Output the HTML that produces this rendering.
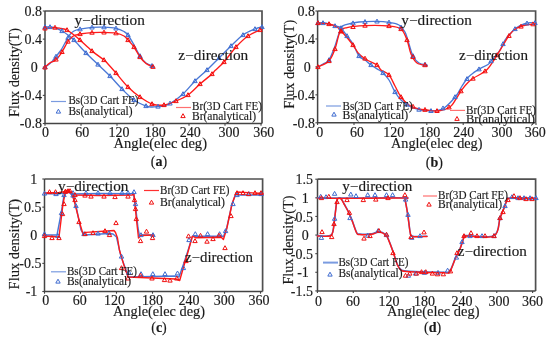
<!DOCTYPE html>
<html><head><meta charset="utf-8"><style>
html,body{margin:0;padding:0;background:#fff;}
svg{display:block;}
text{font-family:"Liberation Serif",serif;fill:#1a1a1a;stroke:#1a1a1a;stroke-width:0.15px;}
svg{will-change:transform;}
</style></head><body>
<svg width="550" height="340" viewBox="0 0 550 340">
<rect width="550" height="340" fill="#fff"/>
<path d="M45,11 H262 V123.5" fill="none" stroke="#505050" stroke-width="1.7"/>
<path d="M45,11 V123.5 H262" fill="none" stroke="#444" stroke-width="1.5"/>
<line x1="45.00" y1="123.5" x2="45.00" y2="125.7" stroke="#444" stroke-width="1.1"/>
<line x1="81.00" y1="123.5" x2="81.00" y2="125.7" stroke="#444" stroke-width="1.1"/>
<line x1="117.00" y1="123.5" x2="117.00" y2="125.7" stroke="#444" stroke-width="1.1"/>
<line x1="153.00" y1="123.5" x2="153.00" y2="125.7" stroke="#444" stroke-width="1.1"/>
<line x1="189.00" y1="123.5" x2="189.00" y2="125.7" stroke="#444" stroke-width="1.1"/>
<line x1="225.00" y1="123.5" x2="225.00" y2="125.7" stroke="#444" stroke-width="1.1"/>
<line x1="261.00" y1="123.5" x2="261.00" y2="125.7" stroke="#444" stroke-width="1.1"/>
<line x1="42.8" y1="11.00" x2="45" y2="11.00" stroke="#444" stroke-width="1.1"/>
<line x1="42.8" y1="39.12" x2="45" y2="39.12" stroke="#444" stroke-width="1.1"/>
<line x1="42.8" y1="67.25" x2="45" y2="67.25" stroke="#444" stroke-width="1.1"/>
<line x1="42.8" y1="95.38" x2="45" y2="95.38" stroke="#444" stroke-width="1.1"/>
<line x1="42.8" y1="123.50" x2="45" y2="123.50" stroke="#444" stroke-width="1.1"/>
<text x="42" y="15.9" font-size="14" text-anchor="end" font-weight="normal">0.8</text>
<text x="42" y="44.02" font-size="14" text-anchor="end" font-weight="normal">0.4</text>
<text x="37.8" y="72.15" font-size="14" text-anchor="end" font-weight="normal">0</text>
<text x="42" y="100.28" font-size="14" text-anchor="end" font-weight="normal">-0.4</text>
<text x="42" y="128.4" font-size="14" text-anchor="end" font-weight="normal">-0.8</text>
<text x="45.6" y="137" font-size="14" text-anchor="middle" font-weight="normal">0</text>
<text x="82.3" y="137" font-size="14" text-anchor="middle" font-weight="normal">60</text>
<text x="119" y="137" font-size="14" text-anchor="middle" font-weight="normal">120</text>
<text x="155.3" y="137" font-size="14" text-anchor="middle" font-weight="normal">180</text>
<text x="190.3" y="137" font-size="14" text-anchor="middle" font-weight="normal">240</text>
<text x="229" y="137" font-size="14" text-anchor="middle" font-weight="normal">300</text>
<text x="263.8" y="137" font-size="14" text-anchor="middle" font-weight="normal">360</text>
<path d="M45.00,27.00 C46.00,27.00 49.17,26.83 51.00,27.00 C52.83,27.17 54.17,27.33 56.00,28.00 C57.83,28.67 60.00,29.83 62.00,31.00 C64.00,32.17 66.00,33.50 68.00,35.00 C70.00,36.50 71.00,37.00 74.00,40.00 C77.00,43.00 82.00,48.92 86.00,53.00 C90.00,57.08 94.00,60.67 98.00,64.50 C102.00,68.33 106.00,71.92 110.00,76.00 C114.00,80.08 118.00,85.00 122.00,89.00 C126.00,93.00 130.00,97.17 134.00,100.00 C138.00,102.83 143.00,104.83 146.00,106.00 C149.00,107.17 149.83,106.93 152.00,107.00 C154.17,107.07 157.00,106.57 159.00,106.40 C161.00,106.23 162.00,106.57 164.00,106.00 C166.00,105.43 167.83,105.00 171.00,103.00 C174.17,101.00 179.00,97.67 183.00,94.00 C187.00,90.33 191.00,85.00 195.00,81.00 C199.00,77.00 203.00,73.83 207.00,70.00 C211.00,66.17 215.00,62.00 219.00,58.00 C223.00,54.00 227.00,49.83 231.00,46.00 C235.00,42.17 239.00,37.83 243.00,35.00 C247.00,32.17 251.83,30.33 255.00,29.00 C258.17,27.67 260.83,27.33 262.00,27.00" fill="none" stroke="#4a78d6" stroke-width="1.35" stroke-linejoin="round" stroke-linecap="round"/>
<path d="M45.00,67.00 C45.83,66.42 48.60,64.70 50.00,63.50 C51.40,62.30 52.20,61.22 53.40,59.80 C54.60,58.38 55.77,56.88 57.20,55.00 C58.63,53.12 60.43,51.00 62.00,48.50 C63.57,46.00 65.27,42.33 66.60,40.00 C67.93,37.67 68.77,36.00 70.00,34.50 C71.23,33.00 72.33,31.88 74.00,31.00 C75.67,30.12 77.00,29.80 80.00,29.20 C83.00,28.60 88.00,27.73 92.00,27.40 C96.00,27.07 100.00,27.03 104.00,27.20 C108.00,27.37 112.67,27.68 116.00,28.40 C119.33,29.12 122.00,30.40 124.00,31.50 C126.00,32.60 126.33,32.75 128.00,35.00 C129.67,37.25 132.00,41.50 134.00,45.00 C136.00,48.50 138.00,53.00 140.00,56.00 C142.00,59.00 143.75,61.25 146.00,63.00 C148.25,64.75 152.25,65.92 153.50,66.50" fill="none" stroke="#4a78d6" stroke-width="1.35" stroke-linejoin="round" stroke-linecap="round"/>
<path d="M45.00,28.40 C46.67,28.27 52.33,27.58 55.00,27.60 C57.67,27.62 59.00,28.10 61.00,28.50 C63.00,28.90 64.83,28.92 67.00,30.00 C69.17,31.08 71.83,33.33 74.00,35.00 C76.17,36.67 77.00,37.33 80.00,40.00 C83.00,42.67 88.00,47.67 92.00,51.00 C96.00,54.33 101.33,57.83 104.00,60.00 C106.67,62.17 106.00,61.83 108.00,64.00 C110.00,66.17 112.67,69.17 116.00,73.00 C119.33,76.83 124.00,83.00 128.00,87.00 C132.00,91.00 136.00,94.17 140.00,97.00 C144.00,99.83 148.00,102.67 152.00,104.00 C156.00,105.33 160.00,105.50 164.00,105.00 C168.00,104.50 172.00,102.67 176.00,101.00 C180.00,99.33 184.00,97.83 188.00,95.00 C192.00,92.17 196.00,87.50 200.00,84.00 C204.00,80.50 209.50,76.25 212.00,74.00 C214.50,71.75 213.00,72.50 215.00,70.50 C217.00,68.50 220.50,65.92 224.00,62.00 C227.50,58.08 232.00,51.33 236.00,47.00 C240.00,42.67 244.00,38.83 248.00,36.00 C252.00,33.17 257.67,31.10 260.00,30.00 C262.33,28.90 261.67,29.50 262.00,29.40" fill="none" stroke="#ff1a1a" stroke-width="1.35" stroke-linejoin="round" stroke-linecap="round"/>
<path d="M45.00,67.40 C45.78,66.67 47.98,64.18 49.70,63.00 C51.42,61.82 53.42,61.85 55.30,60.30 C57.18,58.75 58.95,56.75 61.00,53.70 C63.05,50.65 65.77,44.78 67.60,42.00 C69.43,39.22 70.60,38.17 72.00,37.00 C73.40,35.83 74.67,35.50 76.00,35.00 C77.33,34.50 77.33,34.40 80.00,34.00 C82.67,33.60 88.00,32.87 92.00,32.60 C96.00,32.33 100.00,32.30 104.00,32.40 C108.00,32.50 112.67,32.60 116.00,33.20 C119.33,33.80 122.00,34.87 124.00,36.00 C126.00,37.13 126.33,38.17 128.00,40.00 C129.67,41.83 132.00,44.17 134.00,47.00 C136.00,49.83 138.00,54.25 140.00,57.00 C142.00,59.75 143.75,61.83 146.00,63.50 C148.25,65.17 152.25,66.42 153.50,67.00" fill="none" stroke="#ff1a1a" stroke-width="1.35" stroke-linejoin="round" stroke-linecap="round"/>
<path d="M45.00,24.70 L47.20,28.60 L42.80,28.60 Z" fill="none" stroke="#3f6cd0" stroke-width="1.0" stroke-linejoin="miter"/>
<path d="M50.00,24.70 L52.20,28.60 L47.80,28.60 Z" fill="none" stroke="#3f6cd0" stroke-width="1.0" stroke-linejoin="miter"/>
<path d="M62.00,28.70 L64.20,32.60 L59.80,32.60 Z" fill="none" stroke="#3f6cd0" stroke-width="1.0" stroke-linejoin="miter"/>
<path d="M74.00,37.70 L76.20,41.60 L71.80,41.60 Z" fill="none" stroke="#3f6cd0" stroke-width="1.0" stroke-linejoin="miter"/>
<path d="M86.00,50.70 L88.20,54.60 L83.80,54.60 Z" fill="none" stroke="#3f6cd0" stroke-width="1.0" stroke-linejoin="miter"/>
<path d="M98.00,62.20 L100.20,66.10 L95.80,66.10 Z" fill="none" stroke="#3f6cd0" stroke-width="1.0" stroke-linejoin="miter"/>
<path d="M110.00,73.70 L112.20,77.60 L107.80,77.60 Z" fill="none" stroke="#3f6cd0" stroke-width="1.0" stroke-linejoin="miter"/>
<path d="M122.00,86.70 L124.20,90.60 L119.80,90.60 Z" fill="none" stroke="#3f6cd0" stroke-width="1.0" stroke-linejoin="miter"/>
<path d="M134.00,97.70 L136.20,101.60 L131.80,101.60 Z" fill="none" stroke="#3f6cd0" stroke-width="1.0" stroke-linejoin="miter"/>
<path d="M146.00,103.70 L148.20,107.60 L143.80,107.60 Z" fill="none" stroke="#3f6cd0" stroke-width="1.0" stroke-linejoin="miter"/>
<path d="M158.00,104.19 L160.20,108.09 L155.80,108.09 Z" fill="none" stroke="#3f6cd0" stroke-width="1.0" stroke-linejoin="miter"/>
<path d="M170.00,101.13 L172.20,105.03 L167.80,105.03 Z" fill="none" stroke="#3f6cd0" stroke-width="1.0" stroke-linejoin="miter"/>
<path d="M183.00,91.70 L185.20,95.60 L180.80,95.60 Z" fill="none" stroke="#3f6cd0" stroke-width="1.0" stroke-linejoin="miter"/>
<path d="M195.00,78.70 L197.20,82.60 L192.80,82.60 Z" fill="none" stroke="#3f6cd0" stroke-width="1.0" stroke-linejoin="miter"/>
<path d="M207.00,67.70 L209.20,71.60 L204.80,71.60 Z" fill="none" stroke="#3f6cd0" stroke-width="1.0" stroke-linejoin="miter"/>
<path d="M219.00,55.70 L221.20,59.60 L216.80,59.60 Z" fill="none" stroke="#3f6cd0" stroke-width="1.0" stroke-linejoin="miter"/>
<path d="M231.00,43.70 L233.20,47.60 L228.80,47.60 Z" fill="none" stroke="#3f6cd0" stroke-width="1.0" stroke-linejoin="miter"/>
<path d="M243.00,32.70 L245.20,36.60 L240.80,36.60 Z" fill="none" stroke="#3f6cd0" stroke-width="1.0" stroke-linejoin="miter"/>
<path d="M255.00,26.70 L257.20,30.60 L252.80,30.60 Z" fill="none" stroke="#3f6cd0" stroke-width="1.0" stroke-linejoin="miter"/>
<path d="M262.00,24.70 L264.20,28.60 L259.80,28.60 Z" fill="none" stroke="#3f6cd0" stroke-width="1.0" stroke-linejoin="miter"/>
<path d="M45.00,64.70 L47.20,68.60 L42.80,68.60 Z" fill="none" stroke="#3f6cd0" stroke-width="1.0" stroke-linejoin="miter"/>
<path d="M56.00,54.22 L58.20,58.12 L53.80,58.12 Z" fill="none" stroke="#3f6cd0" stroke-width="1.0" stroke-linejoin="miter"/>
<path d="M68.00,35.44 L70.20,39.34 L65.80,39.34 Z" fill="none" stroke="#3f6cd0" stroke-width="1.0" stroke-linejoin="miter"/>
<path d="M80.00,26.90 L82.20,30.80 L77.80,30.80 Z" fill="none" stroke="#3f6cd0" stroke-width="1.0" stroke-linejoin="miter"/>
<path d="M92.00,25.10 L94.20,29.00 L89.80,29.00 Z" fill="none" stroke="#3f6cd0" stroke-width="1.0" stroke-linejoin="miter"/>
<path d="M104.00,24.90 L106.20,28.80 L101.80,28.80 Z" fill="none" stroke="#3f6cd0" stroke-width="1.0" stroke-linejoin="miter"/>
<path d="M116.00,26.10 L118.20,30.00 L113.80,30.00 Z" fill="none" stroke="#3f6cd0" stroke-width="1.0" stroke-linejoin="miter"/>
<path d="M128.00,32.70 L130.20,36.60 L125.80,36.60 Z" fill="none" stroke="#3f6cd0" stroke-width="1.0" stroke-linejoin="miter"/>
<path d="M140.00,53.70 L142.20,57.60 L137.80,57.60 Z" fill="none" stroke="#3f6cd0" stroke-width="1.0" stroke-linejoin="miter"/>
<path d="M152.00,63.50 L154.20,67.40 L149.80,67.40 Z" fill="none" stroke="#3f6cd0" stroke-width="1.0" stroke-linejoin="miter"/>
<path d="M45.00,26.10 L47.20,30.00 L42.80,30.00 Z" fill="none" stroke="#f01010" stroke-width="1.0" stroke-linejoin="miter"/>
<path d="M55.00,25.30 L57.20,29.20 L52.80,29.20 Z" fill="none" stroke="#f01010" stroke-width="1.0" stroke-linejoin="miter"/>
<path d="M67.00,27.70 L69.20,31.60 L64.80,31.60 Z" fill="none" stroke="#f01010" stroke-width="1.0" stroke-linejoin="miter"/>
<path d="M80.00,37.70 L82.20,41.60 L77.80,41.60 Z" fill="none" stroke="#f01010" stroke-width="1.0" stroke-linejoin="miter"/>
<path d="M92.00,48.70 L94.20,52.60 L89.80,52.60 Z" fill="none" stroke="#f01010" stroke-width="1.0" stroke-linejoin="miter"/>
<path d="M104.00,57.70 L106.20,61.60 L101.80,61.60 Z" fill="none" stroke="#f01010" stroke-width="1.0" stroke-linejoin="miter"/>
<path d="M116.00,70.70 L118.20,74.60 L113.80,74.60 Z" fill="none" stroke="#f01010" stroke-width="1.0" stroke-linejoin="miter"/>
<path d="M128.00,84.70 L130.20,88.60 L125.80,88.60 Z" fill="none" stroke="#f01010" stroke-width="1.0" stroke-linejoin="miter"/>
<path d="M140.00,94.70 L142.20,98.60 L137.80,98.60 Z" fill="none" stroke="#f01010" stroke-width="1.0" stroke-linejoin="miter"/>
<path d="M152.00,101.70 L154.20,105.60 L149.80,105.60 Z" fill="none" stroke="#f01010" stroke-width="1.0" stroke-linejoin="miter"/>
<path d="M164.00,102.70 L166.20,106.60 L161.80,106.60 Z" fill="none" stroke="#f01010" stroke-width="1.0" stroke-linejoin="miter"/>
<path d="M176.00,98.70 L178.20,102.60 L173.80,102.60 Z" fill="none" stroke="#f01010" stroke-width="1.0" stroke-linejoin="miter"/>
<path d="M188.00,92.70 L190.20,96.60 L185.80,96.60 Z" fill="none" stroke="#f01010" stroke-width="1.0" stroke-linejoin="miter"/>
<path d="M200.00,81.70 L202.20,85.60 L197.80,85.60 Z" fill="none" stroke="#f01010" stroke-width="1.0" stroke-linejoin="miter"/>
<path d="M212.00,71.70 L214.20,75.60 L209.80,75.60 Z" fill="none" stroke="#f01010" stroke-width="1.0" stroke-linejoin="miter"/>
<path d="M224.00,59.70 L226.20,63.60 L221.80,63.60 Z" fill="none" stroke="#f01010" stroke-width="1.0" stroke-linejoin="miter"/>
<path d="M236.00,44.70 L238.20,48.60 L233.80,48.60 Z" fill="none" stroke="#f01010" stroke-width="1.0" stroke-linejoin="miter"/>
<path d="M248.00,33.70 L250.20,37.60 L245.80,37.60 Z" fill="none" stroke="#f01010" stroke-width="1.0" stroke-linejoin="miter"/>
<path d="M260.00,27.70 L262.20,31.60 L257.80,31.60 Z" fill="none" stroke="#f01010" stroke-width="1.0" stroke-linejoin="miter"/>
<path d="M45.00,65.10 L47.20,69.00 L42.80,69.00 Z" fill="none" stroke="#f01010" stroke-width="1.0" stroke-linejoin="miter"/>
<path d="M56.00,57.19 L58.20,61.09 L53.80,61.09 Z" fill="none" stroke="#f01010" stroke-width="1.0" stroke-linejoin="miter"/>
<path d="M62.00,49.63 L64.20,53.53 L59.80,53.53 Z" fill="none" stroke="#f01010" stroke-width="1.0" stroke-linejoin="miter"/>
<path d="M68.00,39.25 L70.20,43.15 L65.80,43.15 Z" fill="none" stroke="#f01010" stroke-width="1.0" stroke-linejoin="miter"/>
<path d="M80.00,31.70 L82.20,35.60 L77.80,35.60 Z" fill="none" stroke="#f01010" stroke-width="1.0" stroke-linejoin="miter"/>
<path d="M92.00,30.30 L94.20,34.20 L89.80,34.20 Z" fill="none" stroke="#f01010" stroke-width="1.0" stroke-linejoin="miter"/>
<path d="M104.00,30.10 L106.20,34.00 L101.80,34.00 Z" fill="none" stroke="#f01010" stroke-width="1.0" stroke-linejoin="miter"/>
<path d="M116.00,30.90 L118.20,34.80 L113.80,34.80 Z" fill="none" stroke="#f01010" stroke-width="1.0" stroke-linejoin="miter"/>
<path d="M128.00,37.70 L130.20,41.60 L125.80,41.60 Z" fill="none" stroke="#f01010" stroke-width="1.0" stroke-linejoin="miter"/>
<path d="M134.00,44.70 L136.20,48.60 L131.80,48.60 Z" fill="none" stroke="#f01010" stroke-width="1.0" stroke-linejoin="miter"/>
<path d="M140.00,54.70 L142.20,58.60 L137.80,58.60 Z" fill="none" stroke="#f01010" stroke-width="1.0" stroke-linejoin="miter"/>
<path d="M153.00,64.47 L155.20,68.37 L150.80,68.37 Z" fill="none" stroke="#f01010" stroke-width="1.0" stroke-linejoin="miter"/>
<line x1="51" y1="101.5" x2="66" y2="101.5" stroke="#7a9be0" stroke-width="1.2"/>
<text x="68.5" y="104.2" font-size="12.8" text-anchor="start" font-weight="normal" textLength="70" lengthAdjust="spacingAndGlyphs">Bs(3D Cart FE)</text>
<path d="M58.40,109.20 L60.60,113.10 L56.20,113.10 Z" fill="none" stroke="#3f6cd0" stroke-width="1.0" stroke-linejoin="miter"/>
<text x="68.5" y="114.8" font-size="12.8" text-anchor="start" font-weight="normal" textLength="64" lengthAdjust="spacingAndGlyphs">Bs(analytical)</text>
<line x1="176" y1="107.5" x2="191" y2="107.5" stroke="#ff7070" stroke-width="1.2"/>
<text x="192" y="110.3" font-size="12.8" text-anchor="start" font-weight="normal" textLength="70" lengthAdjust="spacingAndGlyphs">Br(3D Cart FE)</text>
<path d="M183.00,113.70 L185.20,117.60 L180.80,117.60 Z" fill="none" stroke="#f01010" stroke-width="1.0" stroke-linejoin="miter"/>
<text x="192" y="119.6" font-size="12.8" text-anchor="start" font-weight="normal" textLength="64" lengthAdjust="spacingAndGlyphs">Br(analytical)</text>
<text x="74.4" y="24.5" font-size="14.2" text-anchor="start" font-weight="normal" textLength="70.5" lengthAdjust="spacingAndGlyphs">y&#8722;direction</text>
<text x="178.3" y="59.5" font-size="14.2" text-anchor="start" font-weight="normal" textLength="70" lengthAdjust="spacingAndGlyphs">z&#8722;direction</text>
<text x="113.5" y="147.8" font-size="14.5" text-anchor="start" font-weight="normal" textLength="93.5" lengthAdjust="spacingAndGlyphs">Angle(elec deg)</text>
<text x="0" y="0" font-size="14.5" textLength="89" lengthAdjust="spacingAndGlyphs" transform="translate(19.2,117) rotate(-90)">Flux density(T)</text>
<text x="158.9" y="166.29999999999998" font-size="14" text-anchor="middle">(<tspan font-weight="bold">a</tspan>)</text>
<path d="M317.6,11 H535.6 V122.8" fill="none" stroke="#505050" stroke-width="1.7"/>
<path d="M317.6,11 V122.8 H535.6" fill="none" stroke="#444" stroke-width="1.5"/>
<line x1="317.60" y1="122.8" x2="317.60" y2="125.0" stroke="#444" stroke-width="1.1"/>
<line x1="354.00" y1="122.8" x2="354.00" y2="125.0" stroke="#444" stroke-width="1.1"/>
<line x1="390.40" y1="122.8" x2="390.40" y2="125.0" stroke="#444" stroke-width="1.1"/>
<line x1="426.80" y1="122.8" x2="426.80" y2="125.0" stroke="#444" stroke-width="1.1"/>
<line x1="463.20" y1="122.8" x2="463.20" y2="125.0" stroke="#444" stroke-width="1.1"/>
<line x1="499.60" y1="122.8" x2="499.60" y2="125.0" stroke="#444" stroke-width="1.1"/>
<line x1="536.00" y1="122.8" x2="536.00" y2="125.0" stroke="#444" stroke-width="1.1"/>
<line x1="315.40000000000003" y1="11.00" x2="317.6" y2="11.00" stroke="#444" stroke-width="1.1"/>
<line x1="315.40000000000003" y1="38.95" x2="317.6" y2="38.95" stroke="#444" stroke-width="1.1"/>
<line x1="315.40000000000003" y1="66.90" x2="317.6" y2="66.90" stroke="#444" stroke-width="1.1"/>
<line x1="315.40000000000003" y1="94.85" x2="317.6" y2="94.85" stroke="#444" stroke-width="1.1"/>
<line x1="315.40000000000003" y1="122.80" x2="317.6" y2="122.80" stroke="#444" stroke-width="1.1"/>
<text x="315" y="15.9" font-size="14" text-anchor="end" font-weight="normal">0.8</text>
<text x="315" y="43.85" font-size="14" text-anchor="end" font-weight="normal">0.4</text>
<text x="310.8" y="71.8" font-size="14" text-anchor="end" font-weight="normal">0</text>
<text x="315" y="99.75" font-size="14" text-anchor="end" font-weight="normal">-0.4</text>
<text x="315" y="127.7" font-size="14" text-anchor="end" font-weight="normal">-0.8</text>
<text x="319.8" y="136.5" font-size="14" text-anchor="middle" font-weight="normal">0</text>
<text x="356.9" y="136.5" font-size="14" text-anchor="middle" font-weight="normal">60</text>
<text x="393.7" y="136.5" font-size="14" text-anchor="middle" font-weight="normal">120</text>
<text x="429.7" y="136.5" font-size="14" text-anchor="middle" font-weight="normal">180</text>
<text x="463.7" y="136.5" font-size="14" text-anchor="middle" font-weight="normal">240</text>
<text x="502" y="136.5" font-size="14" text-anchor="middle" font-weight="normal">300</text>
<text x="535.3" y="136.5" font-size="14" text-anchor="middle" font-weight="normal">360</text>
<path d="M318.00,23.00 C319.17,23.00 322.17,22.50 325.00,23.00 C327.83,23.50 332.33,25.17 335.00,26.00 C337.67,26.83 339.00,26.33 341.00,28.00 C343.00,29.67 345.00,33.33 347.00,36.00 C349.00,38.67 351.00,40.67 353.00,44.00 C355.00,47.33 357.00,53.33 359.00,56.00 C361.00,58.67 363.00,58.50 365.00,60.00 C367.00,61.50 368.67,63.33 371.00,65.00 C373.33,66.67 377.00,68.67 379.00,70.00 C381.00,71.33 381.33,71.33 383.00,73.00 C384.67,74.67 387.00,76.83 389.00,80.00 C391.00,83.17 393.00,88.67 395.00,92.00 C397.00,95.33 398.67,97.67 401.00,100.00 C403.33,102.33 406.00,104.40 409.00,106.00 C412.00,107.60 416.00,108.87 419.00,109.60 C422.00,110.33 424.83,110.17 427.00,110.40 C429.17,110.63 429.17,111.40 432.00,111.00 C434.83,110.60 440.00,110.50 444.00,108.00 C448.00,105.50 453.00,99.67 456.00,96.00 C459.00,92.33 460.00,89.08 462.00,86.00 C464.00,82.92 466.00,79.77 468.00,77.50 C470.00,75.23 472.00,73.88 474.00,72.40 C476.00,70.92 477.67,69.92 480.00,68.60 C482.33,67.28 486.00,65.93 488.00,64.50 C490.00,63.07 490.00,62.42 492.00,60.00 C494.00,57.58 497.83,53.33 500.00,50.00 C502.17,46.67 503.33,42.67 505.00,40.00 C506.67,37.33 508.17,36.00 510.00,34.00 C511.83,32.00 513.67,29.67 516.00,28.00 C518.33,26.33 521.67,24.90 524.00,24.00 C526.33,23.10 528.08,22.77 530.00,22.60 C531.92,22.43 534.58,22.93 535.50,23.00" fill="none" stroke="#4a78d6" stroke-width="1.35" stroke-linejoin="round" stroke-linecap="round"/>
<path d="M318.00,67.00 C318.83,66.50 321.17,65.17 323.00,64.00 C324.83,62.83 327.00,63.00 329.00,60.00 C331.00,57.00 333.00,51.33 335.00,46.00 C337.00,40.67 339.00,31.60 341.00,28.00 C343.00,24.40 344.00,25.40 347.00,24.40 C350.00,23.40 354.00,22.50 359.00,22.00 C364.00,21.50 372.00,21.33 377.00,21.40 C382.00,21.47 385.33,21.80 389.00,22.40 C392.67,23.00 396.33,23.40 399.00,25.00 C401.67,26.60 403.33,28.83 405.00,32.00 C406.67,35.17 407.67,40.00 409.00,44.00 C410.33,48.00 411.33,52.83 413.00,56.00 C414.67,59.17 416.67,61.50 419.00,63.00 C421.33,64.50 425.67,64.67 427.00,65.00" fill="none" stroke="#4a78d6" stroke-width="1.35" stroke-linejoin="round" stroke-linecap="round"/>
<path d="M318.00,23.00 C319.83,23.17 325.83,23.33 329.00,24.00 C332.17,24.67 334.67,25.50 337.00,27.00 C339.33,28.50 340.33,30.00 343.00,33.00 C345.67,36.00 350.33,41.50 353.00,45.00 C355.67,48.50 356.67,51.50 359.00,54.00 C361.33,56.50 364.00,58.17 367.00,60.00 C370.00,61.83 374.67,63.33 377.00,65.00 C379.33,66.67 379.00,68.33 381.00,70.00 C383.00,71.67 386.67,72.33 389.00,75.00 C391.33,77.67 393.00,82.33 395.00,86.00 C397.00,89.67 398.67,93.83 401.00,97.00 C403.33,100.17 406.00,103.00 409.00,105.00 C412.00,107.00 416.00,108.17 419.00,109.00 C422.00,109.83 423.83,109.67 427.00,110.00 C430.17,110.33 434.17,111.50 438.00,111.00 C441.83,110.50 447.00,109.00 450.00,107.00 C453.00,105.00 454.00,101.90 456.00,99.00 C458.00,96.10 460.00,92.35 462.00,89.60 C464.00,86.85 466.00,84.47 468.00,82.50 C470.00,80.53 471.00,79.78 474.00,77.80 C477.00,75.82 482.67,73.57 486.00,70.60 C489.33,67.63 491.33,63.93 494.00,60.00 C496.67,56.07 499.67,50.83 502.00,47.00 C504.33,43.17 506.00,39.83 508.00,37.00 C510.00,34.17 511.67,31.83 514.00,30.00 C516.33,28.17 519.33,26.93 522.00,26.00 C524.67,25.07 527.75,24.73 530.00,24.40 C532.25,24.07 534.58,24.07 535.50,24.00" fill="none" stroke="#ff1a1a" stroke-width="1.35" stroke-linejoin="round" stroke-linecap="round"/>
<path d="M318.00,67.00 C319.83,66.00 326.17,64.00 329.00,61.00 C331.83,58.00 333.17,53.83 335.00,49.00 C336.83,44.17 338.00,35.57 340.00,32.00 C342.00,28.43 342.83,28.67 347.00,27.60 C351.17,26.53 358.00,25.87 365.00,25.60 C372.00,25.33 383.00,25.43 389.00,26.00 C395.00,26.57 398.00,26.67 401.00,29.00 C404.00,31.33 405.33,35.83 407.00,40.00 C408.67,44.17 409.33,50.17 411.00,54.00 C412.67,57.83 414.33,61.07 417.00,63.00 C419.67,64.93 425.33,65.17 427.00,65.60" fill="none" stroke="#ff1a1a" stroke-width="1.35" stroke-linejoin="round" stroke-linecap="round"/>
<path d="M318.00,20.70 L320.20,24.60 L315.80,24.60 Z" fill="none" stroke="#3f6cd0" stroke-width="1.0" stroke-linejoin="miter"/>
<path d="M323.00,20.70 L325.20,24.60 L320.80,24.60 Z" fill="none" stroke="#3f6cd0" stroke-width="1.0" stroke-linejoin="miter"/>
<path d="M335.00,23.70 L337.20,27.60 L332.80,27.60 Z" fill="none" stroke="#3f6cd0" stroke-width="1.0" stroke-linejoin="miter"/>
<path d="M347.00,33.70 L349.20,37.60 L344.80,37.60 Z" fill="none" stroke="#3f6cd0" stroke-width="1.0" stroke-linejoin="miter"/>
<path d="M359.00,53.70 L361.20,57.60 L356.80,57.60 Z" fill="none" stroke="#3f6cd0" stroke-width="1.0" stroke-linejoin="miter"/>
<path d="M371.00,62.70 L373.20,66.60 L368.80,66.60 Z" fill="none" stroke="#3f6cd0" stroke-width="1.0" stroke-linejoin="miter"/>
<path d="M383.00,70.70 L385.20,74.60 L380.80,74.60 Z" fill="none" stroke="#3f6cd0" stroke-width="1.0" stroke-linejoin="miter"/>
<path d="M395.00,89.70 L397.20,93.60 L392.80,93.60 Z" fill="none" stroke="#3f6cd0" stroke-width="1.0" stroke-linejoin="miter"/>
<path d="M407.00,102.20 L409.20,106.10 L404.80,106.10 Z" fill="none" stroke="#3f6cd0" stroke-width="1.0" stroke-linejoin="miter"/>
<path d="M419.00,107.30 L421.20,111.20 L416.80,111.20 Z" fill="none" stroke="#3f6cd0" stroke-width="1.0" stroke-linejoin="miter"/>
<path d="M431.00,108.58 L433.20,112.48 L428.80,112.48 Z" fill="none" stroke="#3f6cd0" stroke-width="1.0" stroke-linejoin="miter"/>
<path d="M443.00,105.95 L445.20,109.85 L440.80,109.85 Z" fill="none" stroke="#3f6cd0" stroke-width="1.0" stroke-linejoin="miter"/>
<path d="M455.00,94.70 L457.20,98.60 L452.80,98.60 Z" fill="none" stroke="#3f6cd0" stroke-width="1.0" stroke-linejoin="miter"/>
<path d="M467.00,76.62 L469.20,80.52 L464.80,80.52 Z" fill="none" stroke="#3f6cd0" stroke-width="1.0" stroke-linejoin="miter"/>
<path d="M479.00,66.93 L481.20,70.83 L476.80,70.83 Z" fill="none" stroke="#3f6cd0" stroke-width="1.0" stroke-linejoin="miter"/>
<path d="M491.00,58.83 L493.20,62.73 L488.80,62.73 Z" fill="none" stroke="#3f6cd0" stroke-width="1.0" stroke-linejoin="miter"/>
<path d="M503.00,41.70 L505.20,45.60 L500.80,45.60 Z" fill="none" stroke="#3f6cd0" stroke-width="1.0" stroke-linejoin="miter"/>
<path d="M515.00,26.70 L517.20,30.60 L512.80,30.60 Z" fill="none" stroke="#3f6cd0" stroke-width="1.0" stroke-linejoin="miter"/>
<path d="M527.00,21.00 L529.20,24.90 L524.80,24.90 Z" fill="none" stroke="#3f6cd0" stroke-width="1.0" stroke-linejoin="miter"/>
<path d="M535.00,20.66 L537.20,24.56 L532.80,24.56 Z" fill="none" stroke="#3f6cd0" stroke-width="1.0" stroke-linejoin="miter"/>
<path d="M329.00,57.70 L331.20,61.60 L326.80,61.60 Z" fill="none" stroke="#3f6cd0" stroke-width="1.0" stroke-linejoin="miter"/>
<path d="M341.00,25.70 L343.20,29.60 L338.80,29.60 Z" fill="none" stroke="#3f6cd0" stroke-width="1.0" stroke-linejoin="miter"/>
<path d="M353.00,20.90 L355.20,24.80 L350.80,24.80 Z" fill="none" stroke="#3f6cd0" stroke-width="1.0" stroke-linejoin="miter"/>
<path d="M365.00,19.50 L367.20,23.40 L362.80,23.40 Z" fill="none" stroke="#3f6cd0" stroke-width="1.0" stroke-linejoin="miter"/>
<path d="M377.00,19.10 L379.20,23.00 L374.80,23.00 Z" fill="none" stroke="#3f6cd0" stroke-width="1.0" stroke-linejoin="miter"/>
<path d="M389.00,20.10 L391.20,24.00 L386.80,24.00 Z" fill="none" stroke="#3f6cd0" stroke-width="1.0" stroke-linejoin="miter"/>
<path d="M401.00,25.03 L403.20,28.93 L398.80,28.93 Z" fill="none" stroke="#3f6cd0" stroke-width="1.0" stroke-linejoin="miter"/>
<path d="M413.00,53.70 L415.20,57.60 L410.80,57.60 Z" fill="none" stroke="#3f6cd0" stroke-width="1.0" stroke-linejoin="miter"/>
<path d="M425.00,62.20 L427.20,66.10 L422.80,66.10 Z" fill="none" stroke="#3f6cd0" stroke-width="1.0" stroke-linejoin="miter"/>
<path d="M318.00,20.70 L320.20,24.60 L315.80,24.60 Z" fill="none" stroke="#f01010" stroke-width="1.0" stroke-linejoin="miter"/>
<path d="M329.00,21.70 L331.20,25.60 L326.80,25.60 Z" fill="none" stroke="#f01010" stroke-width="1.0" stroke-linejoin="miter"/>
<path d="M341.00,28.70 L343.20,32.60 L338.80,32.60 Z" fill="none" stroke="#f01010" stroke-width="1.0" stroke-linejoin="miter"/>
<path d="M353.00,42.70 L355.20,46.60 L350.80,46.60 Z" fill="none" stroke="#f01010" stroke-width="1.0" stroke-linejoin="miter"/>
<path d="M365.00,56.20 L367.20,60.10 L362.80,60.10 Z" fill="none" stroke="#f01010" stroke-width="1.0" stroke-linejoin="miter"/>
<path d="M377.00,62.70 L379.20,66.60 L374.80,66.60 Z" fill="none" stroke="#f01010" stroke-width="1.0" stroke-linejoin="miter"/>
<path d="M389.00,72.70 L391.20,76.60 L386.80,76.60 Z" fill="none" stroke="#f01010" stroke-width="1.0" stroke-linejoin="miter"/>
<path d="M401.00,94.70 L403.20,98.60 L398.80,98.60 Z" fill="none" stroke="#f01010" stroke-width="1.0" stroke-linejoin="miter"/>
<path d="M413.00,104.30 L415.20,108.20 L410.80,108.20 Z" fill="none" stroke="#f01010" stroke-width="1.0" stroke-linejoin="miter"/>
<path d="M425.00,107.45 L427.20,111.35 L422.80,111.35 Z" fill="none" stroke="#f01010" stroke-width="1.0" stroke-linejoin="miter"/>
<path d="M437.00,108.61 L439.20,112.51 L434.80,112.51 Z" fill="none" stroke="#f01010" stroke-width="1.0" stroke-linejoin="miter"/>
<path d="M449.00,105.03 L451.20,108.93 L446.80,108.93 Z" fill="none" stroke="#f01010" stroke-width="1.0" stroke-linejoin="miter"/>
<path d="M461.00,88.87 L463.20,92.77 L458.80,92.77 Z" fill="none" stroke="#f01010" stroke-width="1.0" stroke-linejoin="miter"/>
<path d="M473.00,76.28 L475.20,80.18 L470.80,80.18 Z" fill="none" stroke="#f01010" stroke-width="1.0" stroke-linejoin="miter"/>
<path d="M485.00,68.90 L487.20,72.80 L482.80,72.80 Z" fill="none" stroke="#f01010" stroke-width="1.0" stroke-linejoin="miter"/>
<path d="M497.00,52.83 L499.20,56.73 L494.80,56.73 Z" fill="none" stroke="#f01010" stroke-width="1.0" stroke-linejoin="miter"/>
<path d="M509.00,33.53 L511.20,37.43 L506.80,37.43 Z" fill="none" stroke="#f01010" stroke-width="1.0" stroke-linejoin="miter"/>
<path d="M521.00,24.20 L523.20,28.10 L518.80,28.10 Z" fill="none" stroke="#f01010" stroke-width="1.0" stroke-linejoin="miter"/>
<path d="M533.00,21.88 L535.20,25.78 L530.80,25.78 Z" fill="none" stroke="#f01010" stroke-width="1.0" stroke-linejoin="miter"/>
<path d="M318.00,64.70 L320.20,68.60 L315.80,68.60 Z" fill="none" stroke="#f01010" stroke-width="1.0" stroke-linejoin="miter"/>
<path d="M329.00,58.70 L331.20,62.60 L326.80,62.60 Z" fill="none" stroke="#f01010" stroke-width="1.0" stroke-linejoin="miter"/>
<path d="M335.00,46.70 L337.20,50.60 L332.80,50.60 Z" fill="none" stroke="#f01010" stroke-width="1.0" stroke-linejoin="miter"/>
<path d="M341.00,29.07 L343.20,32.97 L338.80,32.97 Z" fill="none" stroke="#f01010" stroke-width="1.0" stroke-linejoin="miter"/>
<path d="M353.00,24.63 L355.20,28.53 L350.80,28.53 Z" fill="none" stroke="#f01010" stroke-width="1.0" stroke-linejoin="miter"/>
<path d="M365.00,23.30 L367.20,27.20 L362.80,27.20 Z" fill="none" stroke="#f01010" stroke-width="1.0" stroke-linejoin="miter"/>
<path d="M389.00,23.70 L391.20,27.60 L386.80,27.60 Z" fill="none" stroke="#f01010" stroke-width="1.0" stroke-linejoin="miter"/>
<path d="M401.00,26.70 L403.20,30.60 L398.80,30.60 Z" fill="none" stroke="#f01010" stroke-width="1.0" stroke-linejoin="miter"/>
<path d="M407.00,37.70 L409.20,41.60 L404.80,41.60 Z" fill="none" stroke="#f01010" stroke-width="1.0" stroke-linejoin="miter"/>
<path d="M413.00,54.70 L415.20,58.60 L410.80,58.60 Z" fill="none" stroke="#f01010" stroke-width="1.0" stroke-linejoin="miter"/>
<path d="M425.00,62.78 L427.20,66.68 L422.80,66.68 Z" fill="none" stroke="#f01010" stroke-width="1.0" stroke-linejoin="miter"/>
<line x1="326" y1="106" x2="341" y2="106" stroke="#7a9be0" stroke-width="1.2"/>
<text x="342.6" y="109.6" font-size="12.8" text-anchor="start" font-weight="normal" textLength="70" lengthAdjust="spacingAndGlyphs">Bs(3D Cart FE)</text>
<path d="M334.00,112.20 L336.20,116.10 L331.80,116.10 Z" fill="none" stroke="#3f6cd0" stroke-width="1.0" stroke-linejoin="miter"/>
<text x="342.6" y="119" font-size="12.8" text-anchor="start" font-weight="normal" textLength="65.5" lengthAdjust="spacingAndGlyphs">Bs(analytical)</text>
<line x1="450" y1="110.4" x2="465" y2="110.4" stroke="#ff7070" stroke-width="1.2"/>
<text x="466" y="114" font-size="12.8" text-anchor="start" font-weight="normal" textLength="70" lengthAdjust="spacingAndGlyphs">Br(3D Cart FE)</text>
<path d="M457.00,116.50 L459.20,120.40 L454.80,120.40 Z" fill="none" stroke="#f01010" stroke-width="1.0" stroke-linejoin="miter"/>
<text x="466" y="122.5" font-size="12.8" text-anchor="start" font-weight="normal" textLength="69" lengthAdjust="spacingAndGlyphs">Br(analytical)</text>
<text x="401.3" y="24.6" font-size="14.2" text-anchor="start" font-weight="normal" textLength="70.5" lengthAdjust="spacingAndGlyphs">y&#8722;direction</text>
<text x="459" y="59.8" font-size="14.2" text-anchor="start" font-weight="normal" textLength="69" lengthAdjust="spacingAndGlyphs">z&#8722;direction</text>
<text x="391" y="147.5" font-size="14.5" text-anchor="start" font-weight="normal" textLength="91.5" lengthAdjust="spacingAndGlyphs">Angle(elec deg)</text>
<text x="0" y="0" font-size="14.5" textLength="89" lengthAdjust="spacingAndGlyphs" transform="translate(294.2,108.7) rotate(-90)">Flux density(T)</text>
<text x="434.3" y="166.7" font-size="14" text-anchor="middle">(<tspan font-weight="bold">b</tspan>)</text>
<path d="M44.5,179 H262.6 V291.5" fill="none" stroke="#505050" stroke-width="1.7"/>
<path d="M44.5,179 V291.5 H262.6" fill="none" stroke="#444" stroke-width="1.5"/>
<line x1="44.50" y1="291.5" x2="44.50" y2="293.7" stroke="#444" stroke-width="1.1"/>
<line x1="80.50" y1="291.5" x2="80.50" y2="293.7" stroke="#444" stroke-width="1.1"/>
<line x1="116.50" y1="291.5" x2="116.50" y2="293.7" stroke="#444" stroke-width="1.1"/>
<line x1="152.50" y1="291.5" x2="152.50" y2="293.7" stroke="#444" stroke-width="1.1"/>
<line x1="188.50" y1="291.5" x2="188.50" y2="293.7" stroke="#444" stroke-width="1.1"/>
<line x1="224.50" y1="291.5" x2="224.50" y2="293.7" stroke="#444" stroke-width="1.1"/>
<line x1="260.50" y1="291.5" x2="260.50" y2="293.7" stroke="#444" stroke-width="1.1"/>
<line x1="42.3" y1="179.00" x2="44.5" y2="179.00" stroke="#444" stroke-width="1.1"/>
<line x1="42.3" y1="207.12" x2="44.5" y2="207.12" stroke="#444" stroke-width="1.1"/>
<line x1="42.3" y1="235.25" x2="44.5" y2="235.25" stroke="#444" stroke-width="1.1"/>
<line x1="42.3" y1="263.38" x2="44.5" y2="263.38" stroke="#444" stroke-width="1.1"/>
<line x1="42.3" y1="291.50" x2="44.5" y2="291.50" stroke="#444" stroke-width="1.1"/>
<text x="37.3" y="183.9" font-size="14" text-anchor="end" font-weight="normal">1</text>
<text x="41.5" y="212.03" font-size="14" text-anchor="end" font-weight="normal">0.5</text>
<text x="37.3" y="240.15" font-size="14" text-anchor="end" font-weight="normal">0</text>
<text x="41.5" y="268.27" font-size="14" text-anchor="end" font-weight="normal">-0.5</text>
<text x="37.3" y="296.4" font-size="14" text-anchor="end" font-weight="normal">-1</text>
<text x="45.7" y="305" font-size="14" text-anchor="middle" font-weight="normal">0</text>
<text x="79.7" y="305" font-size="14" text-anchor="middle" font-weight="normal">60</text>
<text x="114.5" y="305" font-size="14" text-anchor="middle" font-weight="normal">120</text>
<text x="152.5" y="305" font-size="14" text-anchor="middle" font-weight="normal">180</text>
<text x="189" y="305" font-size="14" text-anchor="middle" font-weight="normal">240</text>
<text x="224.2" y="305" font-size="14" text-anchor="middle" font-weight="normal">300</text>
<text x="259" y="305" font-size="14" text-anchor="middle" font-weight="normal">360</text>
<path d="M44.50,235.00 L57.00,235.00 L61.00,214.00 L64.00,195.00 L68.00,192.00 L73.00,195.00 L76.00,206.00 L81.00,230.00 L84.00,235.00 L109.00,233.50 L113.00,234.00 L116.50,237.00 L120.80,255.80 L128.00,275.50 L128.80,277.00 L176.00,276.00 L179.00,277.00 L183.40,264.50 L187.70,251.50 L192.40,236.20 L222.30,236.20 L223.40,236.70 L226.70,228.00 L232.00,204.00 L236.00,193.50 L237.00,195.00 L263.00,195.00" fill="none" stroke="#4a78d6" stroke-width="1.4" stroke-linejoin="round" stroke-linecap="round"/>
<path d="M44.50,193.50 L58.00,194.00 L69.00,192.00 L73.00,194.00 L99.00,193.50 L132.00,193.60 L133.00,192.50 L134.00,197.00 L136.00,210.00 L138.00,228.00 L139.50,236.00 L141.00,235.00 L153.50,235.00" fill="none" stroke="#4a78d6" stroke-width="1.4" stroke-linejoin="round" stroke-linecap="round"/>
<path d="M44.50,236.00 L59.00,237.00 L63.00,204.00 L65.50,191.00 L69.00,190.50 L71.00,193.00 L74.00,200.00 L80.00,224.00 L83.00,234.00 L86.00,232.40 L114.00,230.50 L115.50,232.50 L117.50,238.00 L119.40,250.00 L123.70,264.50 L128.00,277.00 L176.00,279.00 L179.70,280.50 L183.40,267.50 L187.70,253.00 L192.40,236.20 L196.00,237.80 L221.30,237.30 L223.40,239.50 L226.70,229.00 L232.00,204.00 L236.00,193.00 L237.00,192.00 L263.00,193.50" fill="none" stroke="#ff1a1a" stroke-width="1.4" stroke-linejoin="round" stroke-linecap="round"/>
<path d="M44.50,193.00 L59.00,192.50 L69.00,191.00 L71.50,193.00 L74.00,195.00 L99.00,195.50 L132.00,195.00 L134.00,194.00 L135.00,205.00 L136.50,220.00 L138.50,238.00 L141.00,235.50 L153.50,235.00" fill="none" stroke="#ff1a1a" stroke-width="1.4" stroke-linejoin="round" stroke-linecap="round"/>
<path d="M44.50,231.70 L46.70,235.60 L42.30,235.60 Z" fill="none" stroke="#3f6cd0" stroke-width="1.0" stroke-linejoin="miter"/>
<path d="M58.00,233.70 L60.20,237.60 L55.80,237.60 Z" fill="none" stroke="#3f6cd0" stroke-width="1.0" stroke-linejoin="miter"/>
<path d="M61.50,210.70 L63.70,214.60 L59.30,214.60 Z" fill="none" stroke="#3f6cd0" stroke-width="1.0" stroke-linejoin="miter"/>
<path d="M64.00,192.70 L66.20,196.60 L61.80,196.60 Z" fill="none" stroke="#3f6cd0" stroke-width="1.0" stroke-linejoin="miter"/>
<path d="M73.00,193.20 L75.20,197.10 L70.80,197.10 Z" fill="none" stroke="#3f6cd0" stroke-width="1.0" stroke-linejoin="miter"/>
<path d="M76.00,203.70 L78.20,207.60 L73.80,207.60 Z" fill="none" stroke="#3f6cd0" stroke-width="1.0" stroke-linejoin="miter"/>
<path d="M84.00,231.70 L86.20,235.60 L81.80,235.60 Z" fill="none" stroke="#3f6cd0" stroke-width="1.0" stroke-linejoin="miter"/>
<path d="M98.00,231.20 L100.20,235.10 L95.80,235.10 Z" fill="none" stroke="#3f6cd0" stroke-width="1.0" stroke-linejoin="miter"/>
<path d="M109.00,230.70 L111.20,234.60 L106.80,234.60 Z" fill="none" stroke="#3f6cd0" stroke-width="1.0" stroke-linejoin="miter"/>
<path d="M121.50,254.20 L123.70,258.10 L119.30,258.10 Z" fill="none" stroke="#3f6cd0" stroke-width="1.0" stroke-linejoin="miter"/>
<path d="M128.80,270.20 L131.00,274.10 L126.60,274.10 Z" fill="none" stroke="#3f6cd0" stroke-width="1.0" stroke-linejoin="miter"/>
<path d="M141.00,271.70 L143.20,275.60 L138.80,275.60 Z" fill="none" stroke="#3f6cd0" stroke-width="1.0" stroke-linejoin="miter"/>
<path d="M152.80,271.70 L155.00,275.60 L150.60,275.60 Z" fill="none" stroke="#3f6cd0" stroke-width="1.0" stroke-linejoin="miter"/>
<path d="M165.00,271.70 L167.20,275.60 L162.80,275.60 Z" fill="none" stroke="#3f6cd0" stroke-width="1.0" stroke-linejoin="miter"/>
<path d="M177.50,271.00 L179.70,274.90 L175.30,274.90 Z" fill="none" stroke="#3f6cd0" stroke-width="1.0" stroke-linejoin="miter"/>
<path d="M183.40,265.70 L185.60,269.60 L181.20,269.60 Z" fill="none" stroke="#3f6cd0" stroke-width="1.0" stroke-linejoin="miter"/>
<path d="M189.00,237.70 L191.20,241.60 L186.80,241.60 Z" fill="none" stroke="#3f6cd0" stroke-width="1.0" stroke-linejoin="miter"/>
<path d="M195.30,231.70 L197.50,235.60 L193.10,235.60 Z" fill="none" stroke="#3f6cd0" stroke-width="1.0" stroke-linejoin="miter"/>
<path d="M207.60,231.70 L209.80,235.60 L205.40,235.60 Z" fill="none" stroke="#3f6cd0" stroke-width="1.0" stroke-linejoin="miter"/>
<path d="M219.60,231.70 L221.80,235.60 L217.40,235.60 Z" fill="none" stroke="#3f6cd0" stroke-width="1.0" stroke-linejoin="miter"/>
<path d="M225.60,228.70 L227.80,232.60 L223.40,232.60 Z" fill="none" stroke="#3f6cd0" stroke-width="1.0" stroke-linejoin="miter"/>
<path d="M233.00,201.70 L235.20,205.60 L230.80,205.60 Z" fill="none" stroke="#3f6cd0" stroke-width="1.0" stroke-linejoin="miter"/>
<path d="M237.00,192.70 L239.20,196.60 L234.80,196.60 Z" fill="none" stroke="#3f6cd0" stroke-width="1.0" stroke-linejoin="miter"/>
<path d="M249.00,191.70 L251.20,195.60 L246.80,195.60 Z" fill="none" stroke="#3f6cd0" stroke-width="1.0" stroke-linejoin="miter"/>
<path d="M261.00,191.70 L263.20,195.60 L258.80,195.60 Z" fill="none" stroke="#3f6cd0" stroke-width="1.0" stroke-linejoin="miter"/>
<path d="M44.50,191.20 L46.70,195.10 L42.30,195.10 Z" fill="none" stroke="#3f6cd0" stroke-width="1.0" stroke-linejoin="miter"/>
<path d="M56.00,191.70 L58.20,195.60 L53.80,195.60 Z" fill="none" stroke="#3f6cd0" stroke-width="1.0" stroke-linejoin="miter"/>
<path d="M73.00,190.70 L75.20,194.60 L70.80,194.60 Z" fill="none" stroke="#3f6cd0" stroke-width="1.0" stroke-linejoin="miter"/>
<path d="M86.00,190.70 L88.20,194.60 L83.80,194.60 Z" fill="none" stroke="#3f6cd0" stroke-width="1.0" stroke-linejoin="miter"/>
<path d="M98.00,190.70 L100.20,194.60 L95.80,194.60 Z" fill="none" stroke="#3f6cd0" stroke-width="1.0" stroke-linejoin="miter"/>
<path d="M110.00,190.70 L112.20,194.60 L107.80,194.60 Z" fill="none" stroke="#3f6cd0" stroke-width="1.0" stroke-linejoin="miter"/>
<path d="M122.00,190.70 L124.20,194.60 L119.80,194.60 Z" fill="none" stroke="#3f6cd0" stroke-width="1.0" stroke-linejoin="miter"/>
<path d="M128.00,190.70 L130.20,194.60 L125.80,194.60 Z" fill="none" stroke="#3f6cd0" stroke-width="1.0" stroke-linejoin="miter"/>
<path d="M134.00,189.70 L136.20,193.60 L131.80,193.60 Z" fill="none" stroke="#3f6cd0" stroke-width="1.0" stroke-linejoin="miter"/>
<path d="M135.50,201.70 L137.70,205.60 L133.30,205.60 Z" fill="none" stroke="#3f6cd0" stroke-width="1.0" stroke-linejoin="miter"/>
<path d="M141.00,232.70 L143.20,236.60 L138.80,236.60 Z" fill="none" stroke="#3f6cd0" stroke-width="1.0" stroke-linejoin="miter"/>
<path d="M153.00,232.70 L155.20,236.60 L150.80,236.60 Z" fill="none" stroke="#3f6cd0" stroke-width="1.0" stroke-linejoin="miter"/>
<path d="M44.50,233.70 L46.70,237.60 L42.30,237.60 Z" fill="none" stroke="#f01010" stroke-width="1.0" stroke-linejoin="miter"/>
<path d="M52.00,235.70 L54.20,239.60 L49.80,239.60 Z" fill="none" stroke="#f01010" stroke-width="1.0" stroke-linejoin="miter"/>
<path d="M59.00,235.70 L61.20,239.60 L56.80,239.60 Z" fill="none" stroke="#f01010" stroke-width="1.0" stroke-linejoin="miter"/>
<path d="M62.50,211.70 L64.70,215.60 L60.30,215.60 Z" fill="none" stroke="#f01010" stroke-width="1.0" stroke-linejoin="miter"/>
<path d="M64.00,201.70 L66.20,205.60 L61.80,205.60 Z" fill="none" stroke="#f01010" stroke-width="1.0" stroke-linejoin="miter"/>
<path d="M65.50,189.20 L67.70,193.10 L63.30,193.10 Z" fill="none" stroke="#f01010" stroke-width="1.0" stroke-linejoin="miter"/>
<path d="M70.00,188.70 L72.20,192.60 L67.80,192.60 Z" fill="none" stroke="#f01010" stroke-width="1.0" stroke-linejoin="miter"/>
<path d="M75.00,197.70 L77.20,201.60 L72.80,201.60 Z" fill="none" stroke="#f01010" stroke-width="1.0" stroke-linejoin="miter"/>
<path d="M79.00,219.70 L81.20,223.60 L76.80,223.60 Z" fill="none" stroke="#f01010" stroke-width="1.0" stroke-linejoin="miter"/>
<path d="M85.00,231.70 L87.20,235.60 L82.80,235.60 Z" fill="none" stroke="#f01010" stroke-width="1.0" stroke-linejoin="miter"/>
<path d="M93.00,230.70 L95.20,234.60 L90.80,234.60 Z" fill="none" stroke="#f01010" stroke-width="1.0" stroke-linejoin="miter"/>
<path d="M105.00,228.70 L107.20,232.60 L102.80,232.60 Z" fill="none" stroke="#f01010" stroke-width="1.0" stroke-linejoin="miter"/>
<path d="M109.50,232.70 L111.70,236.60 L107.30,236.60 Z" fill="none" stroke="#f01010" stroke-width="1.0" stroke-linejoin="miter"/>
<path d="M116.00,220.70 L118.20,224.60 L113.80,224.60 Z" fill="none" stroke="#f01010" stroke-width="1.0" stroke-linejoin="miter"/>
<path d="M121.50,265.70 L123.70,269.60 L119.30,269.60 Z" fill="none" stroke="#f01010" stroke-width="1.0" stroke-linejoin="miter"/>
<path d="M128.00,276.10 L130.20,280.00 L125.80,280.00 Z" fill="none" stroke="#f01010" stroke-width="1.0" stroke-linejoin="miter"/>
<path d="M140.50,273.20 L142.70,277.10 L138.30,277.10 Z" fill="none" stroke="#f01010" stroke-width="1.0" stroke-linejoin="miter"/>
<path d="M152.00,276.10 L154.20,280.00 L149.80,280.00 Z" fill="none" stroke="#f01010" stroke-width="1.0" stroke-linejoin="miter"/>
<path d="M164.50,277.70 L166.70,281.60 L162.30,281.60 Z" fill="none" stroke="#f01010" stroke-width="1.0" stroke-linejoin="miter"/>
<path d="M170.00,278.20 L172.20,282.10 L167.80,282.10 Z" fill="none" stroke="#f01010" stroke-width="1.0" stroke-linejoin="miter"/>
<path d="M176.80,276.10 L179.00,280.00 L174.60,280.00 Z" fill="none" stroke="#f01010" stroke-width="1.0" stroke-linejoin="miter"/>
<path d="M186.00,258.70 L188.20,262.60 L183.80,262.60 Z" fill="none" stroke="#f01010" stroke-width="1.0" stroke-linejoin="miter"/>
<path d="M188.50,233.90 L190.70,237.80 L186.30,237.80 Z" fill="none" stroke="#f01010" stroke-width="1.0" stroke-linejoin="miter"/>
<path d="M195.00,238.70 L197.20,242.60 L192.80,242.60 Z" fill="none" stroke="#f01010" stroke-width="1.0" stroke-linejoin="miter"/>
<path d="M200.50,233.30 L202.70,237.20 L198.30,237.20 Z" fill="none" stroke="#f01010" stroke-width="1.0" stroke-linejoin="miter"/>
<path d="M207.00,239.30 L209.20,243.20 L204.80,243.20 Z" fill="none" stroke="#f01010" stroke-width="1.0" stroke-linejoin="miter"/>
<path d="M213.00,236.70 L215.20,240.60 L210.80,240.60 Z" fill="none" stroke="#f01010" stroke-width="1.0" stroke-linejoin="miter"/>
<path d="M219.00,233.30 L221.20,237.20 L216.80,237.20 Z" fill="none" stroke="#f01010" stroke-width="1.0" stroke-linejoin="miter"/>
<path d="M225.00,245.70 L227.20,249.60 L222.80,249.60 Z" fill="none" stroke="#f01010" stroke-width="1.0" stroke-linejoin="miter"/>
<path d="M231.00,213.70 L233.20,217.60 L228.80,217.60 Z" fill="none" stroke="#f01010" stroke-width="1.0" stroke-linejoin="miter"/>
<path d="M237.00,190.70 L239.20,194.60 L234.80,194.60 Z" fill="none" stroke="#f01010" stroke-width="1.0" stroke-linejoin="miter"/>
<path d="M243.00,190.70 L245.20,194.60 L240.80,194.60 Z" fill="none" stroke="#f01010" stroke-width="1.0" stroke-linejoin="miter"/>
<path d="M248.50,191.70 L250.70,195.60 L246.30,195.60 Z" fill="none" stroke="#f01010" stroke-width="1.0" stroke-linejoin="miter"/>
<path d="M255.00,190.70 L257.20,194.60 L252.80,194.60 Z" fill="none" stroke="#f01010" stroke-width="1.0" stroke-linejoin="miter"/>
<path d="M261.00,190.70 L263.20,194.60 L258.80,194.60 Z" fill="none" stroke="#f01010" stroke-width="1.0" stroke-linejoin="miter"/>
<path d="M49.50,189.70 L51.70,193.60 L47.30,193.60 Z" fill="none" stroke="#f01010" stroke-width="1.0" stroke-linejoin="miter"/>
<path d="M55.50,189.70 L57.70,193.60 L53.30,193.60 Z" fill="none" stroke="#f01010" stroke-width="1.0" stroke-linejoin="miter"/>
<path d="M65.50,189.20 L67.70,193.10 L63.30,193.10 Z" fill="none" stroke="#f01010" stroke-width="1.0" stroke-linejoin="miter"/>
<path d="M68.00,188.70 L70.20,192.60 L65.80,192.60 Z" fill="none" stroke="#f01010" stroke-width="1.0" stroke-linejoin="miter"/>
<path d="M75.00,192.70 L77.20,196.60 L72.80,196.60 Z" fill="none" stroke="#f01010" stroke-width="1.0" stroke-linejoin="miter"/>
<path d="M85.00,193.20 L87.20,197.10 L82.80,197.10 Z" fill="none" stroke="#f01010" stroke-width="1.0" stroke-linejoin="miter"/>
<path d="M91.00,194.20 L93.20,198.10 L88.80,198.10 Z" fill="none" stroke="#f01010" stroke-width="1.0" stroke-linejoin="miter"/>
<path d="M104.00,194.20 L106.20,198.10 L101.80,198.10 Z" fill="none" stroke="#f01010" stroke-width="1.0" stroke-linejoin="miter"/>
<path d="M115.00,194.70 L117.20,198.60 L112.80,198.60 Z" fill="none" stroke="#f01010" stroke-width="1.0" stroke-linejoin="miter"/>
<path d="M128.00,194.20 L130.20,198.10 L125.80,198.10 Z" fill="none" stroke="#f01010" stroke-width="1.0" stroke-linejoin="miter"/>
<path d="M134.50,197.70 L136.70,201.60 L132.30,201.60 Z" fill="none" stroke="#f01010" stroke-width="1.0" stroke-linejoin="miter"/>
<path d="M135.50,206.70 L137.70,210.60 L133.30,210.60 Z" fill="none" stroke="#f01010" stroke-width="1.0" stroke-linejoin="miter"/>
<path d="M136.30,216.70 L138.50,220.60 L134.10,220.60 Z" fill="none" stroke="#f01010" stroke-width="1.0" stroke-linejoin="miter"/>
<path d="M140.50,238.70 L142.70,242.60 L138.30,242.60 Z" fill="none" stroke="#f01010" stroke-width="1.0" stroke-linejoin="miter"/>
<path d="M146.50,229.20 L148.70,233.10 L144.30,233.10 Z" fill="none" stroke="#f01010" stroke-width="1.0" stroke-linejoin="miter"/>
<path d="M152.50,235.70 L154.70,239.60 L150.30,239.60 Z" fill="none" stroke="#f01010" stroke-width="1.0" stroke-linejoin="miter"/>
<line x1="51" y1="271.8" x2="66" y2="271.8" stroke="#7a9be0" stroke-width="1.2"/>
<text x="67" y="274.6" font-size="12.8" text-anchor="start" font-weight="normal" textLength="70" lengthAdjust="spacingAndGlyphs">Bs(3D Cart FE)</text>
<path d="M58.00,279.20 L60.20,283.10 L55.80,283.10 Z" fill="none" stroke="#3f6cd0" stroke-width="1.0" stroke-linejoin="miter"/>
<text x="67" y="284.6" font-size="12.8" text-anchor="start" font-weight="normal" textLength="64" lengthAdjust="spacingAndGlyphs">Bs(analytical)</text>
<line x1="144" y1="190.5" x2="159" y2="190.5" stroke="#ff3030" stroke-width="1.2"/>
<text x="160" y="193.8" font-size="12.8" text-anchor="start" font-weight="normal" textLength="69.5" lengthAdjust="spacingAndGlyphs">Br(3D Cart FE)</text>
<path d="M151.50,200.20 L153.70,204.10 L149.30,204.10 Z" fill="none" stroke="#f01010" stroke-width="1.0" stroke-linejoin="miter"/>
<text x="160" y="206" font-size="12.8" text-anchor="start" font-weight="normal" textLength="65" lengthAdjust="spacingAndGlyphs">Br(analytical)</text>
<text x="58" y="190.5" font-size="14.2" text-anchor="start" font-weight="normal" textLength="70.5" lengthAdjust="spacingAndGlyphs">y&#8722;direction</text>
<text x="185" y="262" font-size="14.2" text-anchor="start" font-weight="normal" textLength="68" lengthAdjust="spacingAndGlyphs">z&#8722;direction</text>
<text x="113" y="315.5" font-size="14.5" text-anchor="start" font-weight="normal" textLength="92" lengthAdjust="spacingAndGlyphs">Angle(elec deg)</text>
<text x="0" y="0" font-size="14.5" textLength="90.6" lengthAdjust="spacingAndGlyphs" transform="translate(19.2,289.4) rotate(-90)">Flux density(T)</text>
<text x="159" y="332.4" font-size="14" text-anchor="middle">(<tspan font-weight="bold">c</tspan>)</text>
<path d="M317.5,179.2 H535.6 V290.9" fill="none" stroke="#505050" stroke-width="1.7"/>
<path d="M317.5,179.2 V290.9 H535.6" fill="none" stroke="#444" stroke-width="1.5"/>
<line x1="317.40" y1="290.9" x2="317.40" y2="293.09999999999997" stroke="#444" stroke-width="1.1"/>
<line x1="353.27" y1="290.9" x2="353.27" y2="293.09999999999997" stroke="#444" stroke-width="1.1"/>
<line x1="389.14" y1="290.9" x2="389.14" y2="293.09999999999997" stroke="#444" stroke-width="1.1"/>
<line x1="425.01" y1="290.9" x2="425.01" y2="293.09999999999997" stroke="#444" stroke-width="1.1"/>
<line x1="460.88" y1="290.9" x2="460.88" y2="293.09999999999997" stroke="#444" stroke-width="1.1"/>
<line x1="496.75" y1="290.9" x2="496.75" y2="293.09999999999997" stroke="#444" stroke-width="1.1"/>
<line x1="532.62" y1="290.9" x2="532.62" y2="293.09999999999997" stroke="#444" stroke-width="1.1"/>
<line x1="315.3" y1="179.20" x2="317.5" y2="179.20" stroke="#444" stroke-width="1.1"/>
<line x1="315.3" y1="197.82" x2="317.5" y2="197.82" stroke="#444" stroke-width="1.1"/>
<line x1="315.3" y1="216.43" x2="317.5" y2="216.43" stroke="#444" stroke-width="1.1"/>
<line x1="315.3" y1="235.05" x2="317.5" y2="235.05" stroke="#444" stroke-width="1.1"/>
<line x1="315.3" y1="253.67" x2="317.5" y2="253.67" stroke="#444" stroke-width="1.1"/>
<line x1="315.3" y1="272.28" x2="317.5" y2="272.28" stroke="#444" stroke-width="1.1"/>
<line x1="315.3" y1="290.90" x2="317.5" y2="290.90" stroke="#444" stroke-width="1.1"/>
<text x="313" y="184.4" font-size="14" text-anchor="end" font-weight="normal">1.5</text>
<text x="308.8" y="203.02" font-size="14" text-anchor="end" font-weight="normal">1</text>
<text x="313" y="221.63" font-size="14" text-anchor="end" font-weight="normal">0.5</text>
<text x="308.8" y="240.25" font-size="14" text-anchor="end" font-weight="normal">0</text>
<text x="313" y="258.87" font-size="14" text-anchor="end" font-weight="normal">-0.5</text>
<text x="308.8" y="277.48" font-size="14" text-anchor="end" font-weight="normal">-1</text>
<text x="313" y="296.1" font-size="14" text-anchor="end" font-weight="normal">-1.5</text>
<text x="318.5" y="305.8" font-size="14" text-anchor="middle" font-weight="normal">0</text>
<text x="353" y="305.8" font-size="14" text-anchor="middle" font-weight="normal">60</text>
<text x="389" y="305.8" font-size="14" text-anchor="middle" font-weight="normal">120</text>
<text x="424.5" y="305.8" font-size="14" text-anchor="middle" font-weight="normal">180</text>
<text x="462" y="305.8" font-size="14" text-anchor="middle" font-weight="normal">240</text>
<text x="499" y="305.8" font-size="14" text-anchor="middle" font-weight="normal">300</text>
<text x="532.6" y="305.8" font-size="14" text-anchor="middle" font-weight="normal">360</text>
<path d="M317.50,235.60 C319.62,235.60 327.58,236.58 330.20,235.60 C332.82,234.62 332.33,233.63 333.20,229.70 C334.07,225.77 334.78,216.90 335.40,212.00 C336.02,207.10 336.42,202.62 336.90,200.30 C337.38,197.98 337.57,198.35 338.30,198.10 C339.03,197.85 340.32,197.82 341.30,198.80 C342.28,199.78 342.98,201.80 344.20,204.00 C345.42,206.20 347.25,209.18 348.60,212.00 C349.95,214.82 350.95,217.47 352.30,220.90 C353.65,224.33 355.48,230.40 356.70,232.60 C357.92,234.80 357.05,233.88 359.60,234.10 C362.15,234.32 368.78,234.32 372.00,233.90 C375.22,233.48 376.60,231.48 378.90,231.60 C381.20,231.72 384.17,233.20 385.80,234.60 C387.43,236.00 387.48,237.17 388.70,240.00 C389.92,242.83 391.63,247.48 393.10,251.60 C394.57,255.72 396.17,261.67 397.50,264.70 C398.83,267.73 399.17,268.70 401.10,269.80 C403.03,270.90 401.95,270.88 409.10,271.30 C416.25,271.72 437.22,272.30 444.00,272.30 C450.78,272.30 447.87,273.77 449.80,271.30 C451.73,268.83 453.90,261.27 455.60,257.50 C457.30,253.73 458.60,252.12 460.00,248.70 C461.40,245.28 463.00,239.18 464.00,237.00 C465.00,234.82 461.00,235.83 466.00,235.60 C471.00,235.37 488.33,238.53 494.00,235.60 C499.67,232.67 498.33,222.60 500.00,218.00 C501.67,213.40 502.83,211.00 504.00,208.00 C505.17,205.00 506.00,201.67 507.00,200.00 C508.00,198.33 505.17,198.33 510.00,198.00 C514.83,197.67 531.67,198.00 536.00,198.00" fill="none" stroke="#4a78d6" stroke-width="1.6" stroke-linejoin="round" stroke-linecap="round"/>
<path d="M317.50,197.80 C321.25,197.85 325.82,198.10 340.00,198.10 C354.18,198.10 391.78,197.57 402.60,197.80 C413.42,198.03 404.13,197.30 404.90,199.50 C405.67,201.70 406.57,207.32 407.20,211.00 C407.83,214.68 408.20,218.05 408.70,221.60 C409.20,225.15 409.57,229.87 410.20,232.30 C410.83,234.73 409.70,235.55 412.50,236.20 C415.30,236.85 424.58,236.20 427.00,236.20" fill="none" stroke="#4a78d6" stroke-width="1.6" stroke-linejoin="round" stroke-linecap="round"/>
<path d="M317.50,236.00 C319.62,236.00 327.58,236.98 330.20,236.00 C332.82,235.02 332.33,234.03 333.20,230.10 C334.07,226.17 334.78,217.30 335.40,212.40 C336.02,207.50 336.42,203.02 336.90,200.70 C337.38,198.38 337.57,198.75 338.30,198.50 C339.03,198.25 340.32,198.22 341.30,199.20 C342.28,200.18 342.98,202.20 344.20,204.40 C345.42,206.60 347.25,209.58 348.60,212.40 C349.95,215.22 350.95,217.87 352.30,221.30 C353.65,224.73 355.48,230.80 356.70,233.00 C357.92,235.20 357.05,234.28 359.60,234.50 C362.15,234.72 368.78,234.72 372.00,234.30 C375.22,233.88 376.60,231.88 378.90,232.00 C381.20,232.12 384.17,233.60 385.80,235.00 C387.43,236.40 387.48,237.57 388.70,240.40 C389.92,243.23 391.63,247.88 393.10,252.00 C394.57,256.12 396.17,262.07 397.50,265.10 C398.83,268.13 399.17,269.10 401.10,270.20 C403.03,271.30 401.95,271.28 409.10,271.70 C416.25,272.12 437.22,272.70 444.00,272.70 C450.78,272.70 447.87,274.17 449.80,271.70 C451.73,269.23 453.90,261.67 455.60,257.90 C457.30,254.13 458.60,252.52 460.00,249.10 C461.40,245.68 463.00,239.58 464.00,237.40 C465.00,235.22 461.00,236.23 466.00,236.00 C471.00,235.77 488.33,238.93 494.00,236.00 C499.67,233.07 498.33,223.00 500.00,218.40 C501.67,213.80 502.83,211.40 504.00,208.40 C505.17,205.40 506.00,202.07 507.00,200.40 C508.00,198.73 505.17,198.73 510.00,198.40 C514.83,198.07 531.67,198.40 536.00,198.40" fill="none" stroke="#ff1a1a" stroke-width="1.4" stroke-linejoin="round" stroke-linecap="round"/>
<path d="M317.50,198.10 C321.25,198.15 325.82,198.40 340.00,198.40 C354.18,198.40 391.78,197.87 402.60,198.10 C413.42,198.33 404.13,197.60 404.90,199.80 C405.67,202.00 406.57,207.62 407.20,211.30 C407.83,214.98 408.20,218.35 408.70,221.90 C409.20,225.45 409.57,230.17 410.20,232.60 C410.83,235.03 409.70,235.85 412.50,236.50 C415.30,237.15 424.58,236.50 427.00,236.50" fill="none" stroke="#ff1a1a" stroke-width="1.4" stroke-linejoin="round" stroke-linecap="round"/>
<path d="M321.40,235.50 L323.60,239.40 L319.20,239.40 Z" fill="none" stroke="#3f6cd0" stroke-width="1.0" stroke-linejoin="miter"/>
<path d="M334.60,216.40 L336.80,220.30 L332.40,220.30 Z" fill="none" stroke="#3f6cd0" stroke-width="1.0" stroke-linejoin="miter"/>
<path d="M350.00,215.70 L352.20,219.60 L347.80,219.60 Z" fill="none" stroke="#3f6cd0" stroke-width="1.0" stroke-linejoin="miter"/>
<path d="M367.70,233.30 L369.90,237.20 L365.50,237.20 Z" fill="none" stroke="#3f6cd0" stroke-width="1.0" stroke-linejoin="miter"/>
<path d="M378.00,228.70 L380.20,232.60 L375.80,232.60 Z" fill="none" stroke="#3f6cd0" stroke-width="1.0" stroke-linejoin="miter"/>
<path d="M386.50,232.70 L388.70,236.60 L384.30,236.60 Z" fill="none" stroke="#3f6cd0" stroke-width="1.0" stroke-linejoin="miter"/>
<path d="M408.40,273.30 L410.60,277.20 L406.20,277.20 Z" fill="none" stroke="#3f6cd0" stroke-width="1.0" stroke-linejoin="miter"/>
<path d="M415.60,271.20 L417.80,275.10 L413.40,275.10 Z" fill="none" stroke="#3f6cd0" stroke-width="1.0" stroke-linejoin="miter"/>
<path d="M424.40,270.40 L426.60,274.30 L422.20,274.30 Z" fill="none" stroke="#3f6cd0" stroke-width="1.0" stroke-linejoin="miter"/>
<path d="M438.00,270.40 L440.20,274.30 L435.80,274.30 Z" fill="none" stroke="#3f6cd0" stroke-width="1.0" stroke-linejoin="miter"/>
<path d="M447.60,268.20 L449.80,272.10 L445.40,272.10 Z" fill="none" stroke="#3f6cd0" stroke-width="1.0" stroke-linejoin="miter"/>
<path d="M456.40,255.20 L458.60,259.10 L454.20,259.10 Z" fill="none" stroke="#3f6cd0" stroke-width="1.0" stroke-linejoin="miter"/>
<path d="M462.00,239.70 L464.20,243.60 L459.80,243.60 Z" fill="none" stroke="#3f6cd0" stroke-width="1.0" stroke-linejoin="miter"/>
<path d="M470.00,233.70 L472.20,237.60 L467.80,237.60 Z" fill="none" stroke="#3f6cd0" stroke-width="1.0" stroke-linejoin="miter"/>
<path d="M482.00,233.70 L484.20,237.60 L479.80,237.60 Z" fill="none" stroke="#3f6cd0" stroke-width="1.0" stroke-linejoin="miter"/>
<path d="M494.00,233.70 L496.20,237.60 L491.80,237.60 Z" fill="none" stroke="#3f6cd0" stroke-width="1.0" stroke-linejoin="miter"/>
<path d="M500.00,215.70 L502.20,219.60 L497.80,219.60 Z" fill="none" stroke="#3f6cd0" stroke-width="1.0" stroke-linejoin="miter"/>
<path d="M505.00,203.70 L507.20,207.60 L502.80,207.60 Z" fill="none" stroke="#3f6cd0" stroke-width="1.0" stroke-linejoin="miter"/>
<path d="M512.00,194.70 L514.20,198.60 L509.80,198.60 Z" fill="none" stroke="#3f6cd0" stroke-width="1.0" stroke-linejoin="miter"/>
<path d="M518.00,195.70 L520.20,199.60 L515.80,199.60 Z" fill="none" stroke="#3f6cd0" stroke-width="1.0" stroke-linejoin="miter"/>
<path d="M524.00,195.70 L526.20,199.60 L521.80,199.60 Z" fill="none" stroke="#3f6cd0" stroke-width="1.0" stroke-linejoin="miter"/>
<path d="M530.00,195.70 L532.20,199.60 L527.80,199.60 Z" fill="none" stroke="#3f6cd0" stroke-width="1.0" stroke-linejoin="miter"/>
<path d="M536.00,195.70 L538.20,199.60 L533.80,199.60 Z" fill="none" stroke="#3f6cd0" stroke-width="1.0" stroke-linejoin="miter"/>
<path d="M320.70,194.30 L322.90,198.20 L318.50,198.20 Z" fill="none" stroke="#3f6cd0" stroke-width="1.0" stroke-linejoin="miter"/>
<path d="M326.00,194.70 L328.20,198.60 L323.80,198.60 Z" fill="none" stroke="#3f6cd0" stroke-width="1.0" stroke-linejoin="miter"/>
<path d="M334.60,191.40 L336.80,195.30 L332.40,195.30 Z" fill="none" stroke="#3f6cd0" stroke-width="1.0" stroke-linejoin="miter"/>
<path d="M350.80,192.10 L353.00,196.00 L348.60,196.00 Z" fill="none" stroke="#3f6cd0" stroke-width="1.0" stroke-linejoin="miter"/>
<path d="M356.00,193.70 L358.20,197.60 L353.80,197.60 Z" fill="none" stroke="#3f6cd0" stroke-width="1.0" stroke-linejoin="miter"/>
<path d="M367.70,192.70 L369.90,196.60 L365.50,196.60 Z" fill="none" stroke="#3f6cd0" stroke-width="1.0" stroke-linejoin="miter"/>
<path d="M375.00,192.70 L377.20,196.60 L372.80,196.60 Z" fill="none" stroke="#3f6cd0" stroke-width="1.0" stroke-linejoin="miter"/>
<path d="M386.50,192.70 L388.70,196.60 L384.30,196.60 Z" fill="none" stroke="#3f6cd0" stroke-width="1.0" stroke-linejoin="miter"/>
<path d="M392.60,192.70 L394.80,196.60 L390.40,196.60 Z" fill="none" stroke="#3f6cd0" stroke-width="1.0" stroke-linejoin="miter"/>
<path d="M405.60,197.20 L407.80,201.10 L403.40,201.10 Z" fill="none" stroke="#3f6cd0" stroke-width="1.0" stroke-linejoin="miter"/>
<path d="M408.00,212.50 L410.20,216.40 L405.80,216.40 Z" fill="none" stroke="#3f6cd0" stroke-width="1.0" stroke-linejoin="miter"/>
<path d="M411.80,235.40 L414.00,239.30 L409.60,239.30 Z" fill="none" stroke="#3f6cd0" stroke-width="1.0" stroke-linejoin="miter"/>
<path d="M420.00,233.70 L422.20,237.60 L417.80,237.60 Z" fill="none" stroke="#3f6cd0" stroke-width="1.0" stroke-linejoin="miter"/>
<path d="M322.00,229.70 L324.20,233.60 L319.80,233.60 Z" fill="none" stroke="#f01010" stroke-width="1.0" stroke-linejoin="miter"/>
<path d="M331.70,234.70 L333.90,238.60 L329.50,238.60 Z" fill="none" stroke="#f01010" stroke-width="1.0" stroke-linejoin="miter"/>
<path d="M334.00,221.70 L336.20,225.60 L331.80,225.60 Z" fill="none" stroke="#f01010" stroke-width="1.0" stroke-linejoin="miter"/>
<path d="M337.00,199.70 L339.20,203.60 L334.80,203.60 Z" fill="none" stroke="#f01010" stroke-width="1.0" stroke-linejoin="miter"/>
<path d="M349.40,210.50 L351.60,214.40 L347.20,214.40 Z" fill="none" stroke="#f01010" stroke-width="1.0" stroke-linejoin="miter"/>
<path d="M364.00,236.20 L366.20,240.10 L361.80,240.10 Z" fill="none" stroke="#f01010" stroke-width="1.0" stroke-linejoin="miter"/>
<path d="M370.00,233.70 L372.20,237.60 L367.80,237.60 Z" fill="none" stroke="#f01010" stroke-width="1.0" stroke-linejoin="miter"/>
<path d="M378.90,228.50 L381.10,232.40 L376.70,232.40 Z" fill="none" stroke="#f01010" stroke-width="1.0" stroke-linejoin="miter"/>
<path d="M386.50,232.30 L388.70,236.20 L384.30,236.20 Z" fill="none" stroke="#f01010" stroke-width="1.0" stroke-linejoin="miter"/>
<path d="M393.00,250.70 L395.20,254.60 L390.80,254.60 Z" fill="none" stroke="#f01010" stroke-width="1.0" stroke-linejoin="miter"/>
<path d="M405.50,273.30 L407.70,277.20 L403.30,277.20 Z" fill="none" stroke="#f01010" stroke-width="1.0" stroke-linejoin="miter"/>
<path d="M409.80,271.20 L412.00,275.10 L407.60,275.10 Z" fill="none" stroke="#f01010" stroke-width="1.0" stroke-linejoin="miter"/>
<path d="M416.40,271.20 L418.60,275.10 L414.20,275.10 Z" fill="none" stroke="#f01010" stroke-width="1.0" stroke-linejoin="miter"/>
<path d="M421.50,269.70 L423.70,273.60 L419.30,273.60 Z" fill="none" stroke="#f01010" stroke-width="1.0" stroke-linejoin="miter"/>
<path d="M425.80,269.70 L428.00,273.60 L423.60,273.60 Z" fill="none" stroke="#f01010" stroke-width="1.0" stroke-linejoin="miter"/>
<path d="M432.40,271.20 L434.60,275.10 L430.20,275.10 Z" fill="none" stroke="#f01010" stroke-width="1.0" stroke-linejoin="miter"/>
<path d="M437.50,271.90 L439.70,275.80 L435.30,275.80 Z" fill="none" stroke="#f01010" stroke-width="1.0" stroke-linejoin="miter"/>
<path d="M443.30,271.90 L445.50,275.80 L441.10,275.80 Z" fill="none" stroke="#f01010" stroke-width="1.0" stroke-linejoin="miter"/>
<path d="M450.50,269.00 L452.70,272.90 L448.30,272.90 Z" fill="none" stroke="#f01010" stroke-width="1.0" stroke-linejoin="miter"/>
<path d="M457.00,250.70 L459.20,254.60 L454.80,254.60 Z" fill="none" stroke="#f01010" stroke-width="1.0" stroke-linejoin="miter"/>
<path d="M464.00,233.70 L466.20,237.60 L461.80,237.60 Z" fill="none" stroke="#f01010" stroke-width="1.0" stroke-linejoin="miter"/>
<path d="M471.00,230.70 L473.20,234.60 L468.80,234.60 Z" fill="none" stroke="#f01010" stroke-width="1.0" stroke-linejoin="miter"/>
<path d="M477.00,233.70 L479.20,237.60 L474.80,237.60 Z" fill="none" stroke="#f01010" stroke-width="1.0" stroke-linejoin="miter"/>
<path d="M485.00,233.70 L487.20,237.60 L482.80,237.60 Z" fill="none" stroke="#f01010" stroke-width="1.0" stroke-linejoin="miter"/>
<path d="M494.00,233.70 L496.20,237.60 L491.80,237.60 Z" fill="none" stroke="#f01010" stroke-width="1.0" stroke-linejoin="miter"/>
<path d="M500.00,215.70 L502.20,219.60 L497.80,219.60 Z" fill="none" stroke="#f01010" stroke-width="1.0" stroke-linejoin="miter"/>
<path d="M503.00,209.70 L505.20,213.60 L500.80,213.60 Z" fill="none" stroke="#f01010" stroke-width="1.0" stroke-linejoin="miter"/>
<path d="M508.00,197.70 L510.20,201.60 L505.80,201.60 Z" fill="none" stroke="#f01010" stroke-width="1.0" stroke-linejoin="miter"/>
<path d="M514.00,193.70 L516.20,197.60 L511.80,197.60 Z" fill="none" stroke="#f01010" stroke-width="1.0" stroke-linejoin="miter"/>
<path d="M520.00,195.70 L522.20,199.60 L517.80,199.60 Z" fill="none" stroke="#f01010" stroke-width="1.0" stroke-linejoin="miter"/>
<path d="M526.00,196.70 L528.20,200.60 L523.80,200.60 Z" fill="none" stroke="#f01010" stroke-width="1.0" stroke-linejoin="miter"/>
<path d="M532.00,196.70 L534.20,200.60 L529.80,200.60 Z" fill="none" stroke="#f01010" stroke-width="1.0" stroke-linejoin="miter"/>
<path d="M321.40,195.70 L323.60,199.60 L319.20,199.60 Z" fill="none" stroke="#f01010" stroke-width="1.0" stroke-linejoin="miter"/>
<path d="M328.80,194.30 L331.00,198.20 L326.60,198.20 Z" fill="none" stroke="#f01010" stroke-width="1.0" stroke-linejoin="miter"/>
<path d="M347.00,197.70 L349.20,201.60 L344.80,201.60 Z" fill="none" stroke="#f01010" stroke-width="1.0" stroke-linejoin="miter"/>
<path d="M363.30,197.70 L365.50,201.60 L361.10,201.60 Z" fill="none" stroke="#f01010" stroke-width="1.0" stroke-linejoin="miter"/>
<path d="M375.80,197.20 L378.00,201.10 L373.60,201.10 Z" fill="none" stroke="#f01010" stroke-width="1.0" stroke-linejoin="miter"/>
<path d="M388.00,195.70 L390.20,199.60 L385.80,199.60 Z" fill="none" stroke="#f01010" stroke-width="1.0" stroke-linejoin="miter"/>
<path d="M404.90,192.70 L407.10,196.60 L402.70,196.60 Z" fill="none" stroke="#f01010" stroke-width="1.0" stroke-linejoin="miter"/>
<path d="M411.00,234.70 L413.20,238.60 L408.80,238.60 Z" fill="none" stroke="#f01010" stroke-width="1.0" stroke-linejoin="miter"/>
<path d="M424.00,230.00 L426.20,233.90 L421.80,233.90 Z" fill="none" stroke="#f01010" stroke-width="1.0" stroke-linejoin="miter"/>
<line x1="323" y1="262.6" x2="338" y2="262.6" stroke="#7a9be0" stroke-width="2"/>
<text x="338.5" y="265.8" font-size="12.8" text-anchor="start" font-weight="normal" textLength="70" lengthAdjust="spacingAndGlyphs">Bs(3D Cart FE)</text>
<path d="M330.00,272.20 L332.20,276.10 L327.80,276.10 Z" fill="none" stroke="#3f6cd0" stroke-width="1.0" stroke-linejoin="miter"/>
<text x="338.5" y="277.2" font-size="12.8" text-anchor="start" font-weight="normal" textLength="64" lengthAdjust="spacingAndGlyphs">Bs(analytical)</text>
<line x1="423" y1="196" x2="437" y2="196" stroke="#ff7070" stroke-width="1.2"/>
<text x="438" y="199.2" font-size="12.8" text-anchor="start" font-weight="normal" textLength="70" lengthAdjust="spacingAndGlyphs">Br(3D Cart FE)</text>
<path d="M429.00,202.20 L431.20,206.10 L426.80,206.10 Z" fill="none" stroke="#f01010" stroke-width="1.0" stroke-linejoin="miter"/>
<text x="438" y="208.2" font-size="12.8" text-anchor="start" font-weight="normal" textLength="64" lengthAdjust="spacingAndGlyphs">Br(analytical)</text>
<text x="342.3" y="191.2" font-size="14.2" text-anchor="start" font-weight="normal" textLength="70" lengthAdjust="spacingAndGlyphs">y&#8722;direction</text>
<text x="457.8" y="255.8" font-size="14.2" text-anchor="start" font-weight="normal" textLength="69" lengthAdjust="spacingAndGlyphs">z&#8722;direction</text>
<text x="387" y="316" font-size="14.5" text-anchor="start" font-weight="normal" textLength="92.5" lengthAdjust="spacingAndGlyphs">Angle(elec deg)</text>
<text x="0" y="0" font-size="14.5" textLength="89" lengthAdjust="spacingAndGlyphs" transform="translate(292.8,284.6) rotate(-90)">Flux density(T)</text>
<text x="432.6" y="332.4" font-size="14" text-anchor="middle">(<tspan font-weight="bold">d</tspan>)</text>
</svg>
</body></html>
